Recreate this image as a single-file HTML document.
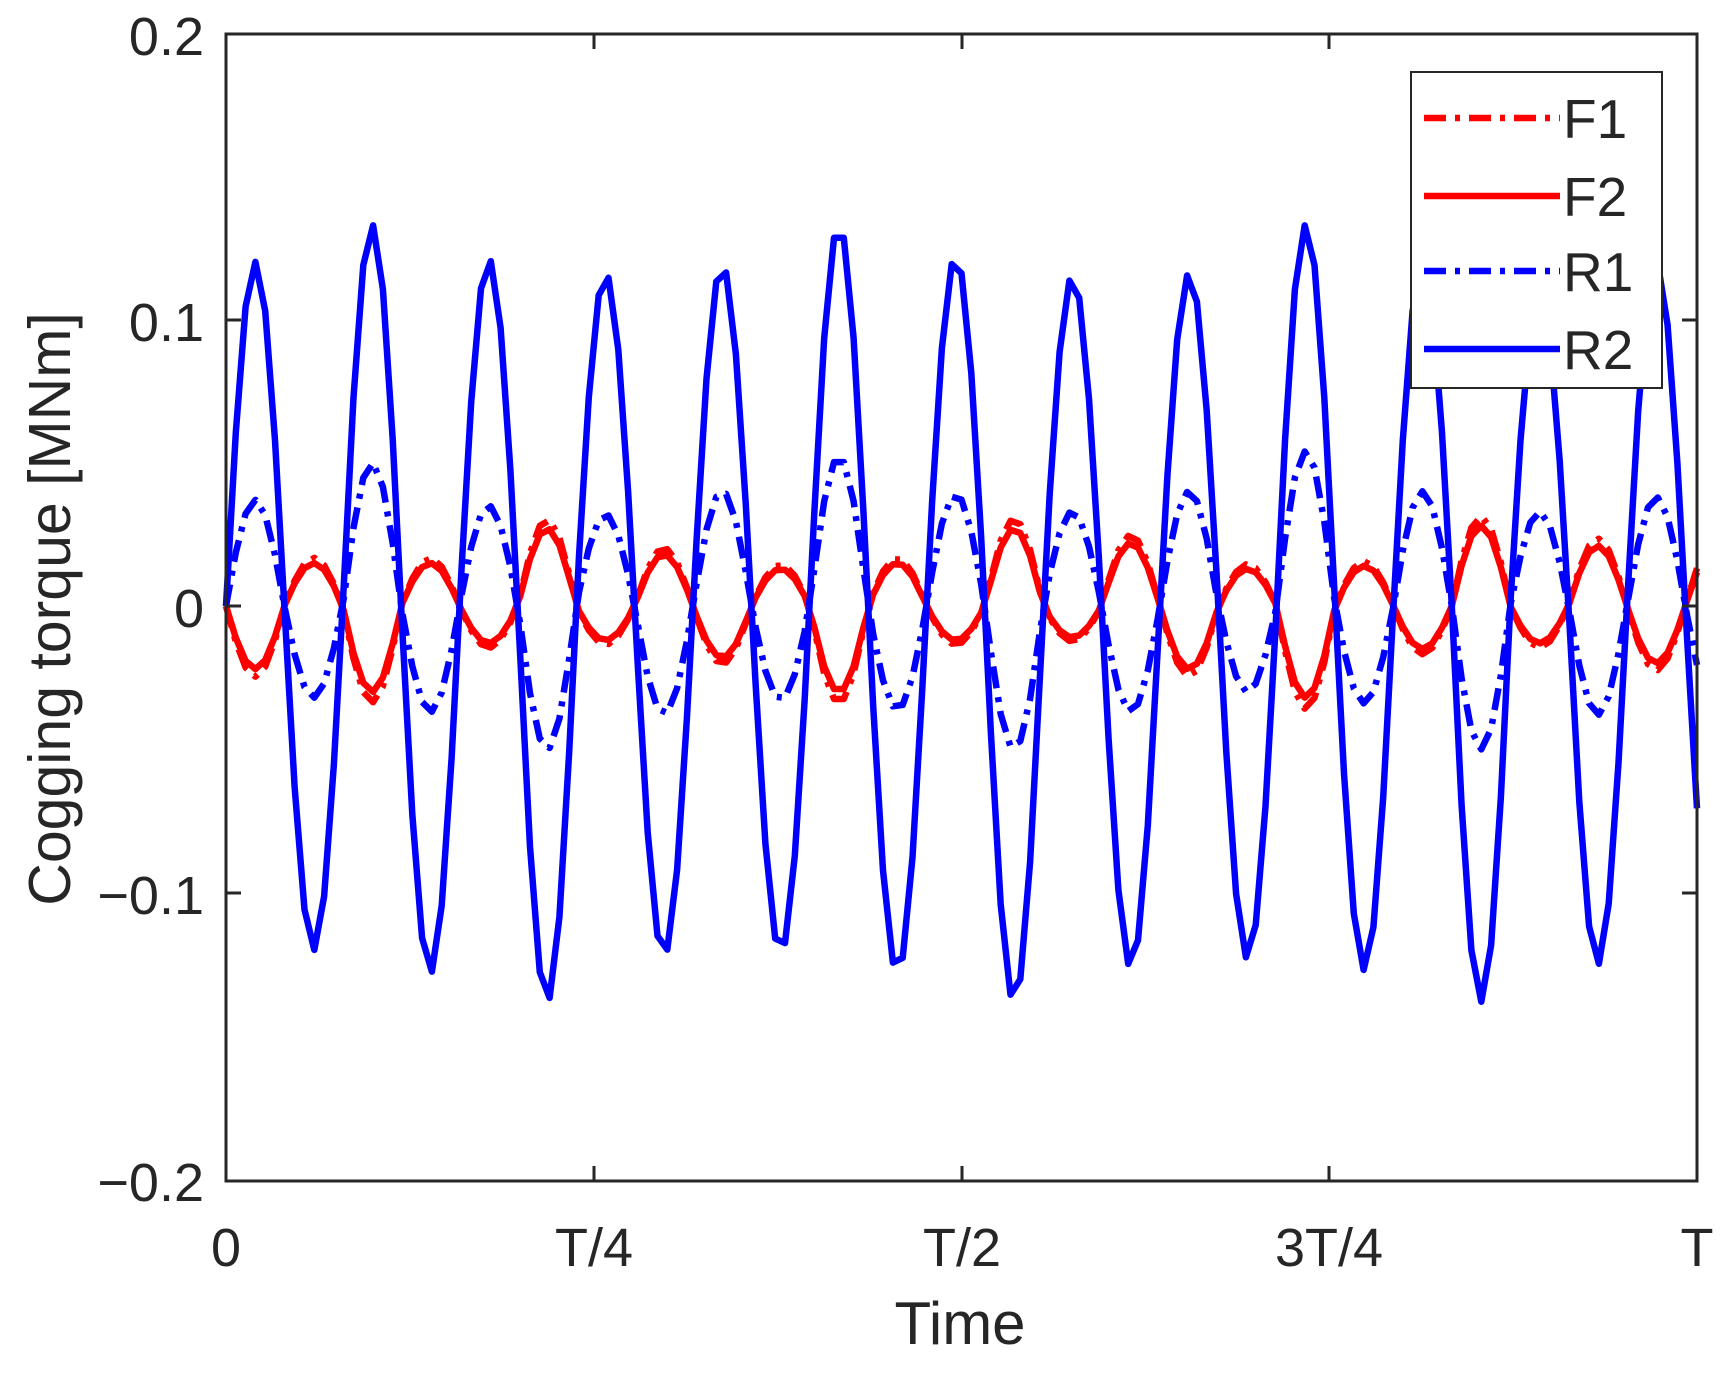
<!DOCTYPE html>
<html><head><meta charset="utf-8"><style>
html,body{margin:0;padding:0;background:#fff;}
svg text{font-family:"Liberation Sans",Arial,sans-serif;fill:#262626;}
</style></head><body>
<svg id="s" width="1729" height="1373" viewBox="0 0 1729 1373" xmlns="http://www.w3.org/2000/svg">
<rect width="1729" height="1373" fill="#fff"/>
<g id="series"></g>
<rect x="226" y="34" width="1471" height="1147" fill="none" stroke="#262626" stroke-width="3"/>
<g stroke="#262626" stroke-width="3">
<line x1="226" y1="320" x2="241" y2="320"/><line x1="226" y1="606" x2="241" y2="606"/><line x1="226" y1="893" x2="241" y2="893"/>
<line x1="1697" y1="320" x2="1682" y2="320"/><line x1="1697" y1="606" x2="1682" y2="606"/><line x1="1697" y1="893" x2="1682" y2="893"/>
<line x1="594" y1="1181" x2="594" y2="1166"/><line x1="962" y1="1181" x2="962" y2="1166"/><line x1="1329" y1="1181" x2="1329" y2="1166"/>
<line x1="594" y1="34" x2="594" y2="49"/><line x1="962" y1="34" x2="962" y2="49"/><line x1="1329" y1="34" x2="1329" y2="49"/>
</g>
<g font-size="54" text-anchor="end">
<text x="204" y="55">0.2</text><text x="204" y="341">0.1</text><text x="204" y="627">0</text>
<text x="204" y="914">−0.1</text><text x="204" y="1201">−0.2</text>
</g>
<g font-size="54" text-anchor="middle">
<text x="226" y="1266">0</text><text x="594" y="1266">T/4</text><text x="962" y="1266">T/2</text>
<text x="1329" y="1266">3T/4</text><text x="1697" y="1266">T</text>
<text x="960" y="1344" font-size="60">Time</text>
<text transform="translate(70,609) rotate(-90)" font-size="59">Cogging torque [MNm]</text>
</g>
<rect x="1411" y="72" width="251" height="316" fill="#fff" stroke="#262626" stroke-width="2"/>
<g stroke-width="6.5" fill="none">
<line x1="1424" y1="118" x2="1560" y2="118" stroke="#f00" stroke-dasharray="22,9,5,9"/>
<line x1="1424" y1="196" x2="1560" y2="196" stroke="#f00"/>
<line x1="1424" y1="271" x2="1560" y2="271" stroke="#00f" stroke-dasharray="22,9,5,9"/>
<line x1="1424" y1="349" x2="1560" y2="349" stroke="#00f"/>
</g>
<g font-size="55">
<text x="1563" y="138">F1</text><text x="1563" y="216">F2</text><text x="1563" y="291">R1</text><text x="1563" y="369">R2</text>
</g>
</svg>
<script>
var f=12.6,N=150;
var R2=[.12,.12,.133,.128,.121,.138,.116,.122,.119,.121,.133,.128,.122,.138,.115,.126,.116,.123,.133,.127,.12,.138,.11,.125,.12,.12,.12];
var R1=[.037,.032,.05,.037,.035,.05,.032,.038,.04,.033,.052,.036,.039,.05,.033,.037,.04,.03,.054,.034,.04,.05,.033,.038,.038,.035,.035];
var F2=[.022,.015,.03,.015,.013,.027,.012,.018,.018,.013,.03,.015,.012,.027,.011,.022,.022,.013,.032,.014,.015,.028,.013,.021,.02,.02,.02];
function path(A,sg,sc){var d="";for(var i=0;i<=N;i++){var t=i/N;var j=Math.floor(2*f*t);var v=sg*sc*A[Math.min(j,A.length-1)]*Math.sin(2*Math.PI*f*t);
var x=226+t*1471,y=606-v*2867.5;d+=(i?"L":"M")+x.toFixed(1)+","+y.toFixed(1);}return d;}
var g=document.getElementById("series");
function add(d,c,dash){var p=document.createElementNS("http://www.w3.org/2000/svg","path");p.setAttribute("d",d);p.setAttribute("stroke",c);p.setAttribute("stroke-width","6.5");p.setAttribute("fill","none");p.setAttribute("stroke-linejoin","round");if(dash)p.setAttribute("stroke-dasharray","22,9,5,9");g.appendChild(p);}
add(path(F2,-1,1.12),"#f00",true);
add(path(F2,-1,1),"#f00",false);
add(path(R1,1,1),"#00f",true);
add(path(R2,1,1),"#00f",false);
</script>
</body></html>
